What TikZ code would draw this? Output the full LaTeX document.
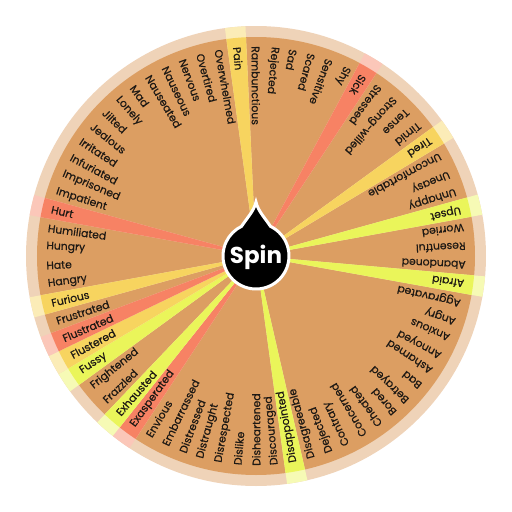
\documentclass[tikz,border=0pt]{standalone}
\usepackage{fontspec}
\setmainfont{Poppins}
\newfontfamily\wedgefont{Poppins}[FakeBold=0.6]
\usepackage{tikz}

\definecolor{wedgetan}{RGB}{220,158,98}
\definecolor{wedgeyel}{RGB}{247,212,95}
\definecolor{wedgered}{RGB}{247,130,100}
\definecolor{wedgelime}{RGB}{234,245,90}
\definecolor{inktext}{RGB}{30,25,20}
\def\plaincol{wedgetan}

\begin{document}
\begin{tikzpicture}[x=1pt, y=1pt,
  wedgetext/.style={anchor=west, inner sep=0pt,
    font=\wedgefont\fontsize{10.8}{12}\selectfont, text=inktext},
  spinword/.style={font=\fontsize{23}{26}\selectfont\bfseries, text=white}]
  \useasboundingbox (-256,-256) rectangle (256,256);
  % Base disc
  \fill[wedgetan!45!white] (0,0) circle (230);
  \fill[wedgetan] (0,0) circle (219);
  % Wedges and their words
  \foreach \word/\col [count=\i from 0] in {
    Pain/wedgeyel, Rambunctious/wedgetan, Rejected/wedgetan, Sad/wedgetan,
    Scared/wedgetan, Sensitive/wedgetan, Shy/wedgetan, Sick/wedgered,
    Stressed/wedgetan, Strong-willed/wedgetan, Tense/wedgetan, Timid/wedgetan,
    Tired/wedgeyel, Uncomfortable/wedgetan, Uneasy/wedgetan, Unhappy/wedgetan,
    Upset/wedgelime, Worried/wedgetan, Resentful/wedgetan, Abandoned/wedgetan,
    Afraid/wedgelime, Aggravated/wedgetan, Angry/wedgetan, Anxious/wedgetan,
    Annoyed/wedgetan, Ashamed/wedgetan, Bad/wedgetan, Betrayed/wedgetan,
    Bored/wedgetan, Cheated/wedgetan, Concerned/wedgetan, Contrary/wedgetan,
    Dejected/wedgetan, Disagreeable/wedgetan, Disappointed/wedgelime,
    Discouraged/wedgetan, Disheartened/wedgetan, Dislike/wedgetan,
    Disrespected/wedgetan, Distraught/wedgetan, Distressed/wedgetan,
    Embarrassed/wedgetan, Envious/wedgetan, Exasperated/wedgered,
    Exhausted/wedgelime, Frazzled/wedgetan, Frightened/wedgetan,
    Fussy/wedgelime, Flustered/wedgeyel, Flustrated/wedgered,
    Frustrated/wedgetan, Furious/wedgeyel, Hangry/wedgetan, Hate/wedgetan,
    Hungry/wedgetan, Humiliated/wedgetan, Hurt/wedgered, Impatient/wedgetan,
    Imprisoned/wedgetan, Infuriated/wedgetan, Irritated/wedgetan,
    Jealous/wedgetan, Jilted/wedgetan, Lonely/wedgetan, Mad/wedgetan,
    Nauseated/wedgetan, Nauseous/wedgetan, Nervous/wedgetan,
    Overtired/wedgetan, Overwhelmed/wedgetan} {
    \pgfmathsetmacro{\angM}{95.2-\i*(360/70)}
    \pgfmathsetmacro{\angA}{\angM+180/70}
    \pgfmathsetmacro{\angB}{\angM-180/70}
    \edef\thiscol{\col}
    \ifx\thiscol\plaincol\else
      \fill[\col!45!white] (0,0) -- (\angA:230) arc[start angle=\angA, end angle=\angB, radius=230] -- cycle;
      \fill[\col] (0,0) -- (\angA:219) arc[start angle=\angA, end angle=\angB, radius=219] -- cycle;
    \fi
    \node[wedgetext, rotate=\angM+180] (w\i) at (\angM:210) {\word};
  }
  % Spin button
  \filldraw[fill=black, draw=white, line width=3pt]
    (0,54) .. controls (2,45) and (9,38) .. (64:33)
    arc[start angle=64, end angle=-244, radius=33]
    .. controls (-9,38) and (-2,45) .. cycle;
  \node[spinword] (spin) at (0,-1) {Spin};
\end{tikzpicture}
\end{document}
